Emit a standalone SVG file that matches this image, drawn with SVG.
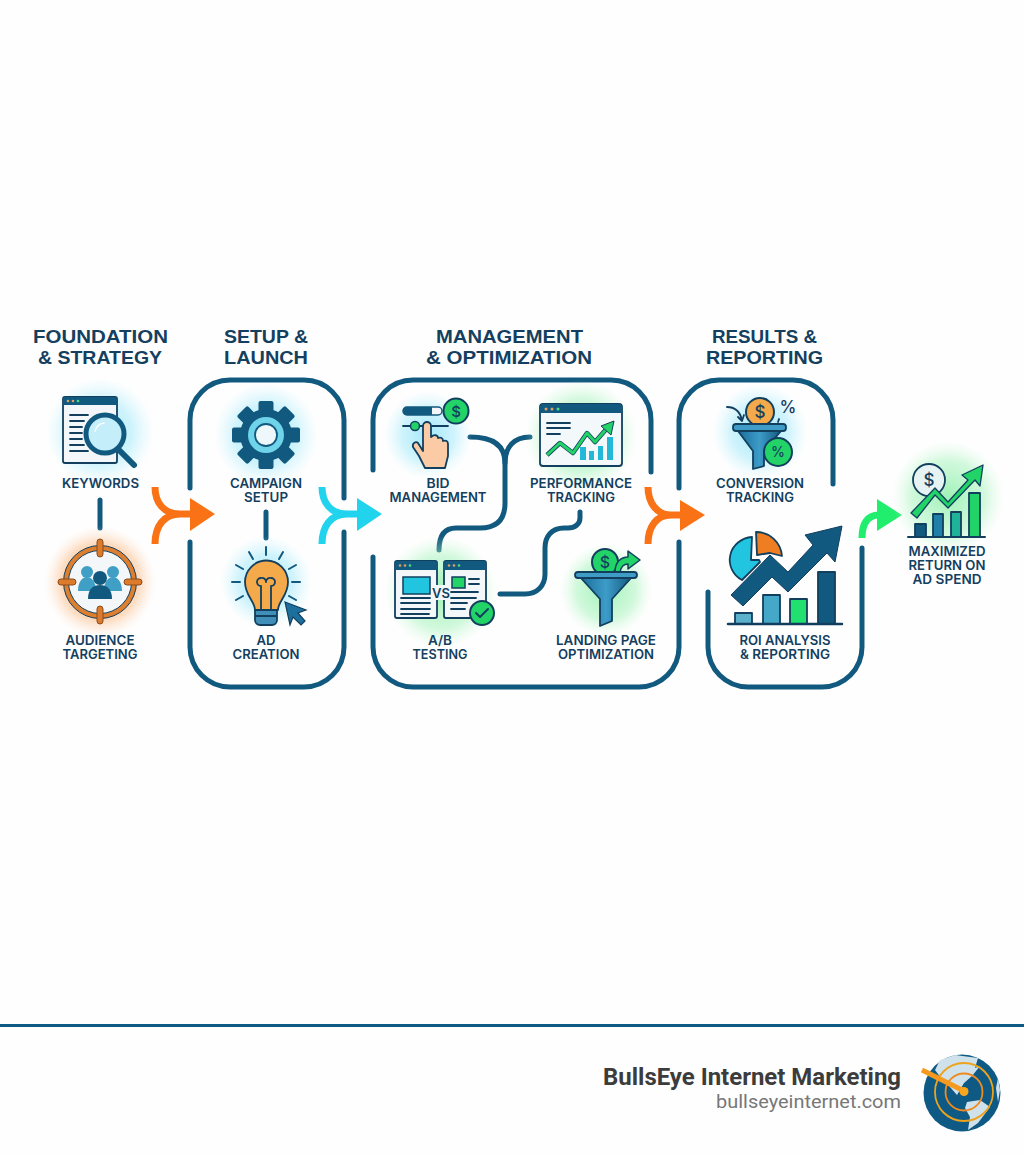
<svg xmlns="http://www.w3.org/2000/svg" width="1024" height="1154" viewBox="0 0 1024 1154">
<style>
text{font-family:"Inter","Liberation Sans",sans-serif;fill:#143f5f;text-anchor:middle}
.h{font-family:"Liberation Sans",Arial,sans-serif;font-size:18px;font-weight:700}
.l{font-size:13px;font-weight:600}
.f{fill:none;stroke:#12597f;stroke-width:5;stroke-linecap:round;stroke-linejoin:round}
.c{fill:none;stroke:#12597f;stroke-width:5;stroke-linecap:round}
.o{stroke:#123f5e;stroke-width:1.800;stroke-linejoin:round}
.n{fill:none;stroke:#123f5e;stroke-width:1.800;stroke-linecap:round;stroke-linejoin:round}
.d{fill:#12597f}
.w{fill:#f3f7fa}
</style>
<defs>
<radialGradient id="gb"><stop offset="0" stop-color="#8fe3fa" stop-opacity=".85"/><stop offset=".6" stop-color="#a9ebfb" stop-opacity=".55"/><stop offset="1" stop-color="#c8f3fd" stop-opacity="0"/></radialGradient>
<radialGradient id="gg"><stop offset="0" stop-color="#7fee9f" stop-opacity=".75"/><stop offset=".65" stop-color="#a4f3ba" stop-opacity=".5"/><stop offset="1" stop-color="#c9f8d6" stop-opacity="0"/></radialGradient>
<radialGradient id="go"><stop offset="0" stop-color="#fba764" stop-opacity=".8"/><stop offset=".7" stop-color="#fcc08f" stop-opacity=".55"/><stop offset="1" stop-color="#fde0c8" stop-opacity="0"/></radialGradient>
<linearGradient id="fn" x1="0" x2="1"><stop offset="0" stop-color="#1b6b98"/><stop offset=".5" stop-color="#3d9cc8"/><stop offset="1" stop-color="#14587f"/></linearGradient>
</defs>
<rect width="1024" height="1154" fill="#fefefe"/>

<g id="headings">
<text class="h" x="100.500" y="343" textLength="135" lengthAdjust="spacingAndGlyphs">FOUNDATION</text>
<text class="h" x="100" y="364" textLength="124" lengthAdjust="spacingAndGlyphs">&amp; STRATEGY</text>
<text class="h" x="266" y="343" textLength="84" lengthAdjust="spacingAndGlyphs">SETUP &amp;</text>
<text class="h" x="266" y="364" textLength="84" lengthAdjust="spacingAndGlyphs">LAUNCH</text>
<text class="h" x="509.500" y="343" textLength="147" lengthAdjust="spacingAndGlyphs">MANAGEMENT</text>
<text class="h" x="509" y="364" textLength="166" lengthAdjust="spacingAndGlyphs">&amp; OPTIMIZATION</text>
<text class="h" x="764.500" y="343" textLength="105" lengthAdjust="spacingAndGlyphs">RESULTS &amp;</text>
<text class="h" x="764.500" y="364" textLength="117" lengthAdjust="spacingAndGlyphs">REPORTING</text>
</g>

<g id="connectors">
<path class="f" d="M190 488V420a40 40 0 0 1 40-40h74a40 40 0 0 1 40 40v78"/>
<path class="f" d="M190 542v105a40 40 0 0 0 40 40h74a40 40 0 0 0 40-40V532"/>
<path class="f" d="M373 470V420a40 40 0 0 1 40-40h198a40 40 0 0 1 40 40v52"/>
<path class="f" d="M373 557v90a40 40 0 0 0 40 40h226a40 40 0 0 0 40-40V542"/>
<path class="f" d="M679 488V420a40 40 0 0 1 40-40h74a40 40 0 0 1 40 40v64"/>
<path class="f" d="M708 592v55a40 40 0 0 0 40 40h74a40 40 0 0 0 40-40V548"/>
<path class="c" d="M100 500v28"/>
<path class="c" d="M266 512v26"/>
<path class="c" d="M470 437c22 0 35 8 35 26v40c0 16-8 25-25 25h-24c-11 0-17 7-17 22"/>
<path class="c" d="M530 437c-16 0-25 10-25 26"/>
<path class="c" d="M580 512v6c0 6-5 10-12 10h-4c-12 0-19 8-19 20v26c0 12-8 20-20 20h-25"/>
<g fill="none" stroke-width="7" stroke-linecap="butt">
<path stroke="#f97316" d="M155 487c0 16 9 27 25 27h12M155 544c0-18 9-30 25-30"/>
<path stroke="#22d3ee" d="M322 487c0 16 9 27 25 27h12M322 544c0-18 9-30 25-30"/>
<path stroke="#f97316" d="M648 487c0 16 9 28 23 28h11M648 544c0-18 9-29 23-29"/>
<path stroke="#22ee6e" d="M862 538c0-14 5-23 17-23"/>
</g>
<path fill="#f97316" d="M190 498l25 16-25 17z"/>
<path fill="#22d3ee" d="M357 498l25 16-25 17z"/>
<path fill="#f97316" d="M680 500l25 15-25 16z"/>
<path fill="#22ee6e" d="M877 499l25 16-25 16z"/>
</g>

<g id="keywords">
<circle cx="100" cy="432" r="54" fill="url(#gb)"/>
<rect class="o w" x="63" y="397" width="54" height="66" rx="2"/>
<path class="d" d="M63 405v-6a2 2 0 0 1 2-2h50a2 2 0 0 1 2 2v6z"/>
<circle cx="68" cy="401" r="1.300" fill="#e0a060"/><circle cx="73" cy="401" r="1.300" fill="#e0a060"/><circle cx="78" cy="401" r="1.300" fill="#4ade80"/>
<path class="n" d="M70 415h18M70 421h14M70 427h12M70 433h12M70 439h12M70 445h14M70 451h18"/>
<path d="M118 449l16 16" stroke="#12597f" stroke-width="6" stroke-linecap="round"/>
<circle cx="105" cy="434" r="19" fill="#c4eef9" stroke="#12597f" stroke-width="5"/>
<path fill="none" stroke="#fff" stroke-width="1.500" stroke-linecap="round" d="M95 431a11 11 0 0 1 9-8"/>
<text class="l" x="100.500" y="488" textLength="77" lengthAdjust="spacingAndGlyphs">KEYWORDS</text>
</g>

<g id="audience">
<circle cx="100" cy="582" r="56" fill="url(#go)"/>
<circle cx="100" cy="582" r="34" fill="#f3f7fa" stroke="#dd7f30" stroke-width="5"/>
<circle cx="100" cy="582" r="36.500" fill="none" stroke="#123f5e" stroke-width="1"/>
<circle cx="100" cy="582" r="31.500" fill="none" stroke="#123f5e" stroke-width="1"/>
<g fill="#dd7b2c" stroke="#8a4c1c" stroke-width="1"><rect x="97" y="539" width="6" height="18" rx="3"/><rect x="97" y="606" width="6" height="18" rx="3"/><rect x="58" y="579" width="18" height="6" rx="3"/><rect x="124" y="579" width="18" height="6" rx="3"/></g>
<g fill="#3f9fc4"><circle cx="87" cy="572" r="6"/><circle cx="113" cy="572" r="6"/><path d="M78 591c0-10 5-14 9-14s9 4 9 14zM104 591c0-10 5-14 9-14s9 4 9 14z"/></g>
<circle class="d" cx="100" cy="578" r="7"/><path class="d" d="M88 599c0-11 6-14 12-14s12 3 12 14z"/>
<text class="l" x="100" y="645" textLength="69" lengthAdjust="spacingAndGlyphs">AUDIENCE</text>
<text class="l" x="100" y="659" textLength="75" lengthAdjust="spacingAndGlyphs">TARGETING</text>
</g>

<g id="campaign-setup">
<circle cx="266" cy="435" r="52" fill="url(#gb)"/>
<g class="d"><circle cx="266" cy="435" r="26"/><rect x="258.500" y="401" width="15" height="68" rx="2"/><rect x="258.500" y="401" width="15" height="68" rx="2" transform="rotate(45 266 435)"/><rect x="258.500" y="401" width="15" height="68" rx="2" transform="rotate(90 266 435)"/><rect x="258.500" y="401" width="15" height="68" rx="2" transform="rotate(135 266 435)"/></g>
<circle cx="266" cy="435" r="18" fill="#6fd3ea"/>
<circle cx="266" cy="435" r="11" fill="#eef8fb" stroke="#12597f" stroke-width="1.800"/>
<text class="l" x="266" y="488" textLength="72" lengthAdjust="spacingAndGlyphs">CAMPAIGN</text>
<text class="l" x="266" y="502" textLength="44" lengthAdjust="spacingAndGlyphs">SETUP</text>
</g>

<g id="ad-creation">
<circle cx="266" cy="582" r="46" fill="url(#gb)"/>
<path class="o" fill="#f4a94a" d="M255 610c0-9-10-14-10-28a21.500 21.500 0 0 1 43 0c0 14-10 19-10 28z"/>
<path class="n" d="M261 610v-24a4 4 0 0 1 0-8 4 4 0 0 1 5 4 4 4 0 0 1 5-4 4 4 0 0 1 0 8v24"/>
<path class="o" fill="#3f8fb8" d="M255 610h22v10a5 5 0 0 1-5 5h-12a5 5 0 0 1-5-5z"/>
<path class="n" d="M256 616h20"/>
<path d="M266 547v8M249 552l4 7M283 552l-4 7M236 565l7 4M296 565l-7 4M232 582h8M292 582h8M236 600l7-4M289 596l7 4" fill="none" stroke="#12597f" stroke-width="2" stroke-linecap="round"/>
<path fill="#1d6f9e" stroke="#123f5e" stroke-width="1.200" d="M285 602l21 8-8 3 7 8-4 4-8-8-3 8z"/>
<text class="l" x="266" y="645" textLength="19" lengthAdjust="spacingAndGlyphs">AD</text>
<text class="l" x="266" y="659" textLength="67" lengthAdjust="spacingAndGlyphs">CREATION</text>
</g>

<g id="bid-management">
<circle cx="428" cy="435" r="44" fill="url(#gb)"/>
<rect x="403" y="407" width="39" height="8" rx="4" fill="#f3f7fa" stroke="#12597f" stroke-width="1.500"/>
<path class="d" d="M407 407h25v8h-25a4 4 0 0 1 0-8z"/>
<path class="n" d="M403 426h7M420 426h3M432 426h16"/>
<circle cx="415" cy="426" r="4.500" fill="#22d468" stroke="#123f5e" stroke-width="1.500"/>
<circle cx="456" cy="411" r="12.500" fill="#22d468" stroke="#123f5e" stroke-width="2"/>
<text x="456" y="416.500" style="font-size:15px;font-weight:500">$</text>
<path class="o" fill="#fbcba5" d="M425 468l-6-12-6-9c-1-4 3-6 5-4l5 8v-25a4 4 0 0 1 8 0v11c3-3 7-2 7 1 3-1 5 0 5 3 3-1 5 0 5 3v12l-3 12z"/>
<text class="l" x="438" y="488" textLength="23" lengthAdjust="spacingAndGlyphs">BID</text>
<text class="l" x="438" y="502" textLength="97" lengthAdjust="spacingAndGlyphs">MANAGEMENT</text>
</g>

<g id="performance-tracking">
<circle cx="581" cy="436" r="56" fill="url(#gg)"/>
<rect class="o" fill="#f3f8fa" x="540" y="404" width="82" height="62" rx="3"/>
<path class="d" d="M540 413v-6a3 3 0 0 1 3-3h76a3 3 0 0 1 3 3v6z"/>
<circle cx="546" cy="409" r="1.500" fill="#e0a060"/><circle cx="552" cy="409" r="1.500" fill="#e0a060"/><circle cx="558" cy="409" r="1.500" fill="#4ade80"/>
<path class="n" d="M547 423h23M547 428h23M547 434h13"/>
<g fill="#22b8d8"><rect x="580" y="447" width="6" height="13"/><rect x="589" y="451" width="5" height="9"/><rect x="598" y="446" width="5" height="14"/><rect x="607" y="437" width="6" height="23"/></g>
<path fill="none" stroke="#123f5e" stroke-width="4.500" stroke-linejoin="round" d="M547 455l13-12 13 10 14-20 8 9 14-16"/>
<path fill="none" stroke="#22d468" stroke-width="3" stroke-linejoin="round" d="M547 455l13-12 13 10 14-20 8 9 14-16"/>
<path fill="#22d468" stroke="#123f5e" stroke-width="1" d="M614 421l-3 14-10-9z"/>
<text class="l" x="581" y="488" textLength="102" lengthAdjust="spacingAndGlyphs">PERFORMANCE</text>
<text class="l" x="581" y="502" textLength="68" lengthAdjust="spacingAndGlyphs">TRACKING</text>
</g>

<g id="ab-testing">
<circle cx="441" cy="592" r="56" fill="url(#gg)"/>
<rect class="o w" x="395" y="561" width="42" height="57" rx="2"/>
<rect class="o w" x="444" y="561" width="42" height="57" rx="2"/>
<path class="d" d="M395 570v-7a2 2 0 0 1 2-2h38a2 2 0 0 1 2 2v7zM444 570v-7a2 2 0 0 1 2-2h38a2 2 0 0 1 2 2v7z"/>
<g fill="#e0a060"><circle cx="400" cy="565.500" r="1.300"/><circle cx="405" cy="565.500" r="1.300"/><circle cx="449" cy="565.500" r="1.300"/><circle cx="454" cy="565.500" r="1.300"/></g>
<circle cx="410" cy="565.500" r="1.300" fill="#4ade80"/><circle cx="459" cy="565.500" r="1.300" fill="#4ade80"/>
<rect x="403" y="577" width="27" height="17" fill="#22c5e0" stroke="#123f5e" stroke-width="1.500"/>
<rect x="452" y="577" width="13" height="11" fill="#22d468" stroke="#123f5e" stroke-width="1.500"/>
<path class="n" d="M401 598h29M401 603h29M401 609h29M401 614h28M451 592h27M469 579h10M469 584h10M451 598h25M451 603h16M451 609h14"/>
<rect x="431" y="585" width="19" height="15" fill="#f3f7fa"/>
<text x="441" y="598" style="font-size:13px;font-weight:600">VS</text>
<circle cx="482" cy="613" r="12" fill="#22d468" stroke="#123f5e" stroke-width="2"/>
<path fill="none" stroke="#123f5e" stroke-width="2" stroke-linecap="round" stroke-linejoin="round" d="M476 613l4 4 8-8"/>
<text class="l" x="440" y="645" textLength="24" lengthAdjust="spacingAndGlyphs">A/B</text>
<text class="l" x="440" y="659" textLength="55" lengthAdjust="spacingAndGlyphs">TESTING</text>
</g>

<g id="landing-page-optimization">
<circle cx="606" cy="590" r="46" fill="url(#gg)"/>
<circle cx="605" cy="562" r="13" fill="#22d468" stroke="#123f5e" stroke-width="2"/>
<text x="605" y="568" style="font-size:16px;font-weight:500">$</text>
<path fill="#22d468" stroke="#123f5e" stroke-width="1.500" stroke-linejoin="round" d="M615 572c0-10 6-15 13-15v-6l12 9-12 9v-5c-5 0-7 3-8 8z"/>
<path class="o" fill="url(#fn)" d="M580 577h52l-20 22v22l-12 5v-27z"/>
<rect class="o" fill="#3f9cc6" x="575" y="572" width="62" height="6" rx="3"/>
<text class="l" x="606" y="645" textLength="100" lengthAdjust="spacingAndGlyphs">LANDING PAGE</text>
<text class="l" x="606" y="659" textLength="96" lengthAdjust="spacingAndGlyphs">OPTIMIZATION</text>
</g>

<g id="conversion-tracking">
<circle cx="760" cy="432" r="48" fill="url(#gb)"/>
<circle cx="760" cy="412" r="14" fill="#f4a94a" stroke="#123f5e" stroke-width="2"/>
<text x="760" y="418" style="font-size:17px;font-weight:500">$</text>
<path class="n" d="M727 407c8 0 13 5 15 13M738 417l4 4 2-6"/>
<text x="788" y="413" style="font-size:17px;font-weight:500">%</text>
<path class="n" d="M779 419l-1 3"/>
<path class="o" fill="url(#fn)" d="M738 431h43l-17 20v15l-11 3v-18z"/>
<rect class="o" fill="#3f9cc6" x="733" y="424" width="53" height="7" rx="3"/>
<circle cx="778" cy="452" r="14" fill="#22d468" stroke="#123f5e" stroke-width="2"/>
<text x="778" y="457" style="font-size:14px;font-weight:500">%</text>
<text class="l" x="760" y="488" textLength="88" lengthAdjust="spacingAndGlyphs">CONVERSION</text>
<text class="l" x="760" y="502" textLength="68" lengthAdjust="spacingAndGlyphs">TRACKING</text>
</g>

<g id="roi-analysis">
<path class="o" fill="#22c5e0" d="M752 537a24 23 0 0 0-10 43l18-18-1-2h-8z"/>
<path class="o" fill="#ef7d22" d="M756 532a26 26 0 0 1 26 24l-12-3-13 2z"/>
<rect class="o" fill="#5bb0cc" x="735" y="613" width="17" height="11"/>
<rect class="o" fill="#45a8c8" x="763" y="595" width="17" height="29"/>
<rect class="o" fill="#22e070" x="790" y="599" width="17" height="25"/>
<rect class="o" fill="#12597f" x="818" y="572" width="17" height="52"/>
<path d="M728 624h114" stroke="#123f5e" stroke-width="2.500" stroke-linecap="round"/>
<path class="d" stroke="#123f5e" stroke-width="1" stroke-linejoin="round" d="M731 595l39-40 18 17 25-27-8-10 37-9-7 36-8-9-39 39-16-15-29 29z"/>
<text class="l" x="785" y="645" textLength="91" lengthAdjust="spacingAndGlyphs">ROI ANALYSIS</text>
<text class="l" x="785" y="659" textLength="90" lengthAdjust="spacingAndGlyphs">&amp; REPORTING</text>
</g>

<g id="maximized-return">
<circle cx="948" cy="497" r="56" fill="url(#gg)"/>
<circle cx="929" cy="480" r="16" fill="#e6f3f3" stroke="#123f5e" stroke-width="1.800"/>
<text x="929" y="486" style="font-size:17px;font-weight:500">$</text>
<rect class="o" fill="#12597f" x="915" y="524" width="11" height="13"/>
<rect class="o" fill="#1f7fa8" x="933" y="514" width="10" height="23"/>
<rect class="o" fill="#1fb39a" x="951" y="512" width="10" height="25"/>
<rect class="o" fill="#22d468" x="969" y="493" width="11" height="44"/>
<path d="M908 537h77" stroke="#123f5e" stroke-width="2" stroke-linecap="round"/>
<path fill="#22d468" stroke="#123f5e" stroke-width="1.300" stroke-linejoin="round" d="M911 513l24-25 13 14 20-22-6-5 21-10-3 21-5-6-27 28-13-13-18 23z"/>
<text class="l" x="947" y="556" textLength="77" lengthAdjust="spacingAndGlyphs">MAXIMIZED</text>
<text class="l" x="947" y="570" textLength="77" lengthAdjust="spacingAndGlyphs">RETURN ON</text>
<text class="l" x="947" y="584" textLength="69" lengthAdjust="spacingAndGlyphs">AD SPEND</text>
</g>

<g id="footer">
<rect y="1024" width="1024" height="3" fill="#0f5a85"/>
<text x="901" y="1084.500" style="font-family:Roboto,'Liberation Sans',sans-serif;font-size:23px;font-weight:700;fill:#3c3c3c;text-anchor:end" textLength="298" lengthAdjust="spacingAndGlyphs">BullsEye Internet Marketing</text>
<text x="901" y="1107.500" style="font-family:Roboto,'Liberation Sans',sans-serif;font-size:18.500px;font-weight:400;fill:#777;text-anchor:end" textLength="185" lengthAdjust="spacingAndGlyphs">bullseyeinternet.com</text>
<circle cx="962" cy="1093" r="38.500" fill="#0f5a85"/>
<path fill="#cfe2ec" d="M940 1060l15-5 23 3-3 10 5-2-8 10-8 7-7 12-7-8-9-9-6-8zM967 1102l13-2 10 7-12 16-10 7 2-13-5-9zM998 1078l2 12-2 12-2-14z"/>
<g fill="none"><circle cx="964" cy="1092" r="18.500" stroke="#ee8a1e" stroke-width="1.800"/><circle cx="964" cy="1092" r="29" stroke="#eda31c" stroke-width="1.800"/></g>
<path d="M922 1070l42 21" stroke="#f59a1e" stroke-width="5"/>
<circle cx="964" cy="1091.500" r="4.500" fill="#f9a51e"/>
</g>
</svg>
